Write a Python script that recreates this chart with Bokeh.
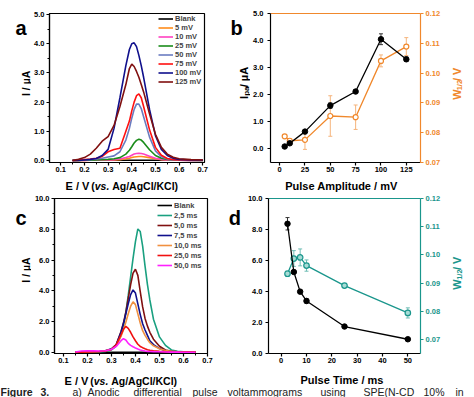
import math
from bokeh.plotting import figure
from bokeh.layouts import row, column
from bokeh.models import (Range1d, LinearAxis, FixedTicker, PrintfTickFormatter, Label,
                          Whisker, TeeHead, ColumnDataSource)
from bokeh.embed import file_html
from bokeh.resources import INLINE

# ---------------- data ----------------
# panel a: DPV curves vs pulse amplitude
E_a = [0.15, 0.175, 0.2, 0.225, 0.25, 0.275, 0.3, 0.325, 0.35, 0.375, 0.39, 0.4, 0.41,
       0.42, 0.43, 0.44, 0.45, 0.475, 0.5, 0.525, 0.55, 0.575, 0.6, 0.65, 0.7]
a_labels = ["Blank", "5 mV", "10 mV", "25 mV", "50 mV", "75 mV", "100 mV", "125 mV"]
a_colors = ["#000000", "#ff8c1a", "#ff40c0", "#1a8c1a", "#6a7cc0", "#ff1010", "#10108c", "#801010"]
i_blank_a = [0.01, 0.01, 0.01, 0.01, 0.01, 0.01, 0.01, 0.01, 0.01, 0.01, 0.01, 0.01, 0.01,
             0.01, 0.01, 0.01, 0.01, 0.01, 0.01, 0.01, 0.01, 0.01, 0.01, 0.01, 0.01]
i_5mV = [0, 0, 0, 0.01, 0.01, 0.01, 0.02, 0.02, 0.03, 0.06, 0.08, 0.1, 0.12,
         0.13, 0.14, 0.14, 0.13, 0.1, 0.06, 0.03, 0.02, 0.01, 0.01, 0, 0]
i_10mV = [0, 0, 0, 0.01, 0.01, 0.02, 0.02, 0.03, 0.05, 0.1, 0.14, 0.18, 0.22,
          0.24, 0.25, 0.24, 0.22, 0.15, 0.08, 0.04, 0.02, 0.01, 0.01, 0, 0]
i_25mV = [0, 0, 0.01, 0.01, 0.02, 0.03, 0.04, 0.06, 0.1, 0.22, 0.35, 0.47, 0.6,
          0.69, 0.73, 0.7, 0.62, 0.37, 0.17, 0.08, 0.04, 0.02, 0.01, 0.01, 0]
i_50mV = [0, 0.01, 0.02, 0.03, 0.05, 0.08, 0.12, 0.16, 0.3, 0.7, 1.1, 1.45, 1.75,
          1.93, 1.93, 1.78, 1.5, 0.8, 0.33, 0.13, 0.05, 0.02, 0.01, 0, 0]
i_75mV = [0, 0.01, 0.03, 0.05, 0.08, 0.14, 0.3, 0.38, 0.42, 1.0, 1.35, 1.7, 2.0,
          2.22, 2.28, 2.15, 1.85, 1.05, 0.45, 0.18, 0.07, 0.03, 0.02, 0.01, 0.01]
i_100mV = [0, 0, 0.02, 0.04, 0.07, 0.17, 0.38, 1.1, 2.15, 3.25, 3.8, 4.0, 4.03,
           3.9, 3.6, 3.25, 2.85, 1.75, 0.85, 0.38, 0.17, 0.08, 0.04, 0.02, 0.01]
i_125mV = [0, 0.04, 0.1, 0.22, 0.42, 0.66, 0.82, 1.2, 1.85, 2.6, 3.15, 3.3, 3.22,
           3.05, 2.85, 2.6, 2.35, 1.6, 0.9, 0.45, 0.22, 0.11, 0.06, 0.03, 0.02]
a_series = [i_blank_a, i_5mV, i_10mV, i_25mV, i_50mV, i_75mV, i_100mV, i_125mV]

# panel b: peak current and half-width vs pulse amplitude
amplitude = [5, 10, 25, 50, 75, 100, 125]
ipa_b = [0.09, 0.21, 0.64, 1.6, 2.12, 4.05, 3.31]
ipa_b_err = [0.03, 0.03, 0.05, 0.1, 0.05, 0.2, 0.08]
w_b = [0.0788, 0.0773, 0.0776, 0.0856, 0.0852, 0.1041, 0.1089]
w_b_err = [0.0005, 0.0005, 0.0032, 0.0068, 0.0041, 0.002, 0.003]

# panel c: DPV curves vs pulse time
E_c = [0.15, 0.175, 0.2, 0.225, 0.25, 0.275, 0.3, 0.32, 0.34, 0.35, 0.36, 0.37, 0.38, 0.39,
       0.4, 0.41, 0.42, 0.43, 0.44, 0.45, 0.46, 0.475, 0.5, 0.525, 0.55, 0.575, 0.6, 0.65]
c_labels = ["Blank", "2,5 ms", "5,0 ms", "7,5 ms", "10,0 ms", "25,0 ms", "50,0 ms"]
c_colors = ["#000000", "#1aa080", "#801010", "#10108c", "#f09040", "#f01010", "#ff20ff"]
i_blank_c = [0, 0, 0, 0, 0, 0, 0, 0, 0, 0, 0, 0, 0, 0,
             0, 0, 0, 0, 0, 0, 0, 0, 0, 0, 0, 0, 0, 0]
i_2_5ms = [0, 0, 0, 0, 0.02, 0.05, 0.15, 0.4, 1.1, 1.7, 2.6, 3.7, 4.9, 6.1,
           7.2, 8.02, 7.85, 6.9, 5.6, 4.4, 3.4, 2.15, 1.0, 0.45, 0.15, 0.06, 0.03, 0.01]
i_5_0ms = [0, 0.01, 0.02, 0.03, 0.05, 0.1, 0.2, 0.5, 1.35, 1.9, 2.6, 3.5, 4.4, 5.15,
           5.4, 5.0, 3.95, 2.95, 2.2, 1.7, 1.3, 0.85, 0.39, 0.15, 0.06, 0.03, 0.02, 0.01]
i_7_5ms = [0, 0.01, 0.02, 0.03, 0.05, 0.1, 0.22, 0.48, 1.3, 1.85, 2.5, 3.15, 3.75, 4.05,
           3.85, 3.15, 2.45, 1.85, 1.45, 1.1, 0.75, 0.5, 0.24, 0.1, 0.04, 0.02, 0.01, 0]
i_10ms = [0, 0.01, 0.02, 0.03, 0.05, 0.1, 0.2, 0.42, 1.05, 1.45, 1.95, 2.5, 3.0, 3.28,
          3.1, 2.5, 1.9, 1.4, 1.1, 0.85, 0.62, 0.42, 0.23, 0.12, 0.06, 0.03, 0.02, 0.01]
i_25ms = [0, 0.01, 0.02, 0.03, 0.05, 0.08, 0.18, 0.48, 1.14, 1.5, 1.68, 1.55, 1.3, 1.0,
          0.75, 0.52, 0.38, 0.3, 0.23, 0.17, 0.13, 0.1, 0.06, 0.04, 0.03, 0.02, 0.02, 0.01]
i_50ms = [0.02, 0.08, 0.1, 0.09, 0.08, 0.1, 0.18, 0.38, 0.75, 0.88, 0.8, 0.58, 0.45, 0.36,
          0.28, 0.21, 0.15, 0.11, 0.08, 0.06, 0.05, 0.04, 0.03, 0.02, 0.01, 0.01, 0, 0]
c_series = [i_blank_c, i_2_5ms, i_5_0ms, i_7_5ms, i_10ms, i_25ms, i_50ms]

# panel d: peak current and half-width vs pulse time
pulse_time = [2.5, 5, 7.5, 10, 25, 50]
ipa_d = [8.37, 5.26, 3.99, 3.39, 1.74, 0.92]
ipa_d_err = [0.4, 0.1, 0.1, 0.15, 0.05, 0.05]
w_d = [0.0933, 0.0987, 0.0991, 0.0962, 0.0891, 0.0794]
w_d_err = [0.001, 0.0028, 0.003, 0.002, 0.0007, 0.0018]

# ---------------- style ----------------
FONT = "Liberation Sans"
ORANGE = "#f0882c"
ORANGE_LIGHT = "#f5b47c"
TEAL = "#1a968c"
TEAL_LIGHT = "#6fbdb5"
TICK_SIZE = "7.5px"
UP = math.pi / 2


def make_fig(w, h, xr, yr, bl, br, bt, bb, outline):
    p = figure(width=w, height=h, x_range=Range1d(*xr), y_range=Range1d(*yr),
               output_backend="svg", toolbar_location=None,
               min_border_left=bl, min_border_right=br, min_border_top=bt, min_border_bottom=bb)
    p.xgrid.visible = False
    p.ygrid.visible = False
    p.background_fill_color = "white"
    p.border_fill_color = "white"
    p.outline_line_color = outline
    p.outline_line_width = 1.2
    return p


def make_strip(w, h):
    """A blank canvas (no axes) used to hold the texts that lie outside the plot frames."""
    p = figure(width=w, height=h, x_range=Range1d(0, w), y_range=Range1d(0, h),
               output_backend="svg", toolbar_location=None,
               x_axis_type=None, y_axis_type=None,
               min_border_left=0, min_border_right=0, min_border_top=0, min_border_bottom=0)
    p.xgrid.visible = False
    p.ygrid.visible = False
    p.outline_line_color = None
    p.background_fill_color = "white"
    p.border_fill_color = "white"
    return p


def text(p, px, py, s, size, color="black", style="bold", angle=0.0, align="left"):
    # px, py: pixel position inside strip p (origin top-left)
    h = p.height
    p.add_layout(Label(x=px, y=h - py, text=s, text_font=FONT, text_font_size=f"{size}px",
                       text_font_style=style, text_color=color, angle=angle,
                       text_align=align, text_baseline="alphabetic"))


def style_axis(ax, color="black", minor=True, standoff=2):
    ax.axis_line_color = color
    ax.axis_line_width = 1.2
    ax.major_tick_line_color = color
    ax.major_tick_line_width = 1.2
    ax.minor_tick_line_color = color if minor else None
    ax.major_tick_out = 3
    ax.major_tick_in = 0
    ax.minor_tick_out = 2
    ax.minor_tick_in = 0
    ax.major_label_text_font = FONT
    ax.major_label_text_font_style = "bold"
    ax.major_label_text_font_size = TICK_SIZE
    ax.major_label_text_color = color
    ax.major_label_standoff = standoff


def line_axis(p, side, color):
    ax = LinearAxis(ticker=FixedTicker(ticks=[]), axis_line_color=color, axis_line_width=1.2,
                    major_tick_out=0, major_tick_in=0, minor_tick_out=0, minor_tick_in=0,
                    major_label_standoff=0, major_label_text_font_size="0px")
    p.add_layout(ax, side)


def e_label(p, px, py):
    text(p, px, py, "E / V", 11)
    text(p, px + 25.7, py, "(", 10.5)
    text(p, px + 29.2, py, "vs.", 10.5, style="bold italic")
    text(p, px + 46.7, py, "Ag/AgCl/KCl)", 10.5)


def w_label(p, px, py, color):
    text(p, px, py, "W", 11, color=color, angle=UP)
    text(p, px + 2.5, py - 11.2, "1/2", 7.5, color=color, angle=UP)
    text(p, px, py - 22.2, "/ V", 11, color=color, angle=UP)


def style_legend(p, loc, row_h):
    lg = p.legend[0]
    lg.location = loc
    lg.padding = 0
    lg.margin = 0
    lg.spacing = 0
    lg.border_line_color = None
    lg.background_fill_alpha = 0
    lg.glyph_width = 15
    lg.glyph_height = row_h
    lg.label_height = row_h
    lg.label_standoff = 2
    lg.label_text_font = FONT
    lg.label_text_font_style = "bold"
    lg.label_text_font_size = "7.5px"


def err_source(x, y, e):
    return ColumnDataSource(dict(x=x, y=y, lo=[v - d for v, d in zip(y, e)],
                                 hi=[v + d for v, d in zip(y, e)]))


def add_whisker(p, src, color, range_name="default"):
    p.add_layout(Whisker(source=src, base="x", lower="lo", upper="hi", dimension="height",
                         y_range_name=range_name, line_color=color, line_width=1,
                         lower_head=TeeHead(size=4, line_color=color),
                         upper_head=TeeHead(size=4, line_color=color)))


W1, W2 = 176, 174      # heights of the two plot rows
S1, S2 = 17, 30        # heights of the two x-label strips

# ---------------- panel a ----------------
pa = make_fig(198, W1, (0.0526, 0.7071), (-0.068, 5.034), 17, 25, 13, 14, "black")
for ys, lab, col in zip(a_series, a_labels, a_colors):
    pa.line(E_a, ys, line_color=col, line_width=1.6, legend_label=lab)
pa.xaxis.ticker = FixedTicker(ticks=[0.1, 0.2, 0.3, 0.4, 0.5, 0.6, 0.7],
                              minor_ticks=[0.05, 0.15, 0.25, 0.35, 0.45, 0.55, 0.65])
pa.yaxis.ticker = FixedTicker(ticks=[0, 1, 2, 3, 4, 5], minor_ticks=[0.5, 1.5, 2.5, 3.5, 4.5])
pa.xaxis.formatter = PrintfTickFormatter(format="%.1f")
pa.yaxis.formatter = PrintfTickFormatter(format="%.1f")
style_axis(pa.xaxis[0], standoff=1)
style_axis(pa.yaxis[0])
style_legend(pa, (109, 76), 9)

la = make_strip(31, W1)
text(la, 15, 17, "a", 20)
text(la, 25, 82.5, "I / µA", 10.5, angle=UP, align="center")

# ---------------- panel b ----------------
pb = make_fig(193, W1, (-9, 139), (-0.5, 5.0), 18, 21, 13, 14, None)
pb.extra_y_ranges = {"w": Range1d(0.07, 0.12)}
src_wb = err_source(amplitude, w_b, w_b_err)
src_ib = err_source(amplitude, ipa_b, ipa_b_err)
add_whisker(pb, src_wb, ORANGE_LIGHT, "w")
pb.line("x", "y", source=src_wb, y_range_name="w", line_color=ORANGE, line_width=1.3)
pb.scatter("x", "y", source=src_wb, y_range_name="w", marker="circle", size=5,
           line_color=ORANGE, fill_color="white", line_width=1.2)
add_whisker(pb, src_ib, "#333333")
pb.line("x", "y", source=src_ib, line_color="black", line_width=1.3)
pb.scatter("x", "y", source=src_ib, marker="circle", size=5.5, line_color="black",
           fill_color="black")
pb.xaxis.ticker = FixedTicker(ticks=[0, 25, 50, 75, 100, 125])
pb.yaxis.ticker = FixedTicker(ticks=[0, 1, 2, 3, 4, 5])
pb.yaxis.formatter = PrintfTickFormatter(format="%.1f")
style_axis(pb.xaxis[0], minor=False, standoff=1)
style_axis(pb.yaxis[0], minor=False, standoff=4)
rb = LinearAxis(y_range_name="w", ticker=FixedTicker(ticks=[0.07, 0.08, 0.09, 0.10, 0.11, 0.12]),
                formatter=PrintfTickFormatter(format="%.2f"))
style_axis(rb, ORANGE, minor=False)
pb.add_layout(rb, "right")
line_axis(pb, "above", ORANGE)

lb = make_strip(21, W1)
text(lb, 1, 17, "b", 20)
text(lb, 14.5, 101, "I", 11, angle=UP)
text(lb, 16.8, 97.3, "pa", 8, angle=UP)
text(lb, 14.5, 87.2, " / µA", 11, angle=UP)

rbs = make_strip(31, W1)
w_label(rbs, 13, 102, ORANGE)

# x-label strip under a and b
s1 = make_strip(474, S1)
e_label(s1, 65, 9)
text(s1, 284.7, 9.5, "Pulse Amplitude / mV", 11)

# ---------------- panel c ----------------
pc = make_fig(196, W2, (0.063, 0.70), (-0.08, 10.0), 21, 20, 5, 14, "black")
for ys, lab, col in zip(c_series, c_labels, c_colors):
    pc.line(E_c, ys, line_color=col, line_width=1.6, legend_label=lab)
pc.xaxis.ticker = FixedTicker(ticks=[0.1, 0.2, 0.3, 0.4, 0.5, 0.6, 0.7],
                              minor_ticks=[0.15, 0.25, 0.35, 0.45, 0.55, 0.65])
pc.yaxis.ticker = FixedTicker(ticks=[0, 2, 4, 6, 8, 10], minor_ticks=[1, 3, 5, 7, 9])
pc.xaxis.formatter = PrintfTickFormatter(format="%.1f")
pc.yaxis.formatter = PrintfTickFormatter(format="%.1f")
style_axis(pc.xaxis[0], standoff=1)
style_axis(pc.yaxis[0])
style_legend(pc, (103, 83), 10)

lc = make_strip(31, W2)
text(lc, 15, 22, "c", 20)
text(lc, 25, 80.3, "I / µA", 10.5, angle=UP, align="center")

# ---------------- panel d ----------------
pd_ = make_fig(200, W2, (-5, 55), (0, 10), 25, 21, 5, 14, None)
pd_.extra_y_ranges = {"w": Range1d(0.065, 0.12)}
src_wd = err_source(pulse_time, w_d, w_d_err)
src_id = err_source(pulse_time, ipa_d, ipa_d_err)
add_whisker(pd_, src_wd, TEAL_LIGHT, "w")
pd_.line("x", "y", source=src_wd, y_range_name="w", line_color=TEAL, line_width=1.3)
pd_.scatter("x", "y", source=src_wd, y_range_name="w", marker="circle", size=5.5,
            line_color=TEAL, fill_color="#a8dcd6", line_width=1.2)
add_whisker(pd_, src_id, "#333333")
pd_.line("x", "y", source=src_id, line_color="black", line_width=1.3)
pd_.scatter("x", "y", source=src_id, marker="circle", size=5.5, line_color="black",
            fill_color="black")
pd_.xaxis.ticker = FixedTicker(ticks=[0, 10, 20, 30, 40, 50])
pd_.yaxis.ticker = FixedTicker(ticks=[0, 2, 4, 6, 8, 10])
pd_.yaxis.formatter = PrintfTickFormatter(format="%.1f")
style_axis(pd_.xaxis[0], minor=False, standoff=1)
style_axis(pd_.yaxis[0], minor=False, standoff=3)
rd = LinearAxis(y_range_name="w", ticker=FixedTicker(ticks=[0.07, 0.08, 0.09, 0.10, 0.11, 0.12]),
                formatter=PrintfTickFormatter(format="%.2f"))
style_axis(rd, TEAL, minor=False)
pd_.add_layout(rd, "right")
line_axis(pd_, "above", TEAL)

ld = make_strip(16, W2)
text(ld, 1.3, 22, "d", 20)

rds = make_strip(31, W2)
w_label(rds, 13, 102.5, TEAL)

# x-label strip under c and d, with the start of the figure caption
s2 = make_strip(474, S2)
e_label(s2, 64, 13)
text(s2, 300, 12, "Pulse Time / ms", 11)
caption_words = [("Figure", 0, "bold"), ("3.", 40, "bold"), ("a)", 72, "normal"),
                 ("Anodic", 87, "normal"), ("differential", 133, "normal"),
                 ("pulse", 192, "normal"), ("voltammograms", 227, "normal"),
                 ("using", 320, "normal"), ("SPE(N-CD", 363, "normal"),
                 ("10%", 423, "normal"), ("in", 455, "normal")]
for word, rx, st in caption_words:
    text(s2, rx, 24, word, 10.5, color="#222222", style=st)

layout = column(row(la, pa, lb, pb, rbs), s1,
                row(lc, pc, ld, pd_, rds), s2)
open("out.html", "w").write(file_html(layout, INLINE))
